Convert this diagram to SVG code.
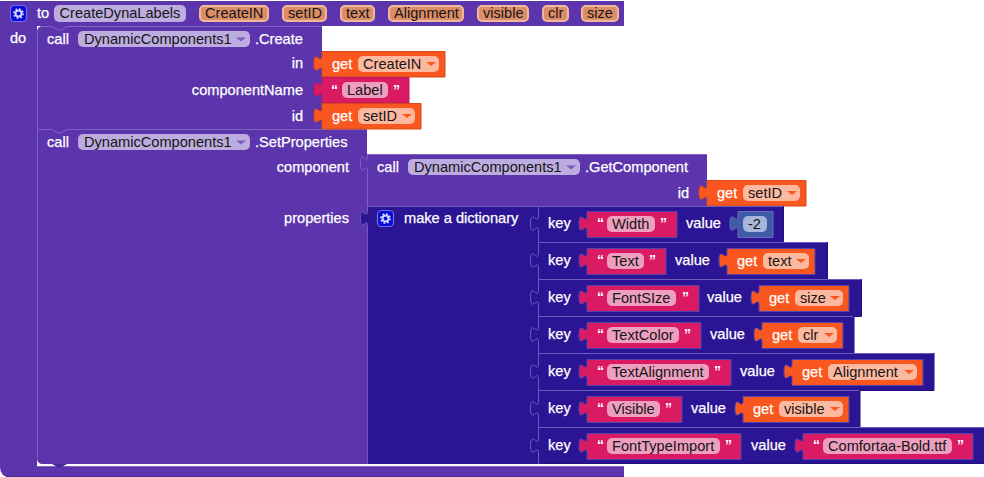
<svg xmlns="http://www.w3.org/2000/svg" xmlns:xlink="http://www.w3.org/1999/xlink" width="984" height="477" viewBox="0 0 984 477">
<style>
text{font-family:"Liberation Sans",Arial,sans-serif;font-size:14.6px}
.t{fill:#fff;stroke:#fff;stroke-width:.25px}.k{fill:#151515}.e{text-anchor:end}
.q{fill:#fff;font-weight:bold;font-size:14px}
.pn{fill:#5c35ad}
.hl{fill:none;stroke:#7e63c2;stroke-width:1}
.hd{fill:none;stroke:#6a5cc0;stroke-width:1}
.dk{fill:#2c1594}
.de{fill:none;stroke:#24107f;stroke-width:1}
.or{fill:#f9571f;stroke:#5344ab;stroke-width:1}
.or1{fill:#f9571f;stroke:#d8481a;stroke-width:1}
.pk{fill:#db1a64;stroke:#5344ab;stroke-width:1}
.pk1{fill:#db1a64;stroke:#b81a60;stroke-width:1}
.bl{fill:#3e5ba8;stroke:#6a6cb8;stroke-width:1}
.fp{fill:#bdacdf}.fo{fill:#fdb9a0}.fk{fill:#ee9fbf}.fb{fill:#a8b5dc}
.par{fill:#dc8d68;stroke:#efb89d;stroke-width:2}
.tp{fill:#7a5dbd}.to{fill:#f9571f}
.ic{fill:#0a0ad6;stroke:#6f6fe6;stroke-width:1.2}
</style>
<defs>
<g id="gear"><circle r="3" fill="none" stroke="#d4d4ff" stroke-width="2"/><circle r="4.6" fill="none" stroke="#d4d4ff" stroke-width="1.6" stroke-dasharray="1.8 1.8"/></g>
</defs>

<g id="procedure">
<path class="pn" d="M0,1H624V26H37V466H624V477H10Q0,477 0,467Z"/>
<path d="M37,466.500H624" stroke="#7e63c2"/>
<path d="M6,476.500H624" stroke="#4a2a9a"/>
<rect class="ic" x="10.500" y="5.500" width="16" height="16" rx="4"/>
<use xlink:href="#gear" x="18.500" y="13.500"/>
<text class="t" x="37" y="18">to</text>
<rect class="fp" x="54" y="5" width="132" height="17" rx="5"/>
<text class="k" x="59.500" y="18">CreateDynaLabels</text>
<rect class="par" x="200" y="6" width="68" height="15" rx="4"/><text class="k" x="205" y="18">CreateIN</text>
<rect class="par" x="283" y="6" width="43" height="15" rx="4"/><text class="k" x="288" y="18">setID</text>
<rect class="par" x="341" y="6" width="33" height="15" rx="4"/><text class="k" x="346" y="18">text</text>
<rect class="par" x="389" y="6" width="74" height="15" rx="4"/><text class="k" x="394" y="18">Alignment</text>
<rect class="par" x="478" y="6" width="50" height="15" rx="4"/><text class="k" x="483" y="18">visible</text>
<rect class="par" x="543" y="6" width="25" height="15" rx="4"/><text class="k" x="548" y="18">clr</text>
<rect class="par" x="582" y="6" width="36" height="15" rx="4"/><text class="k" x="587" y="18">size</text>
<text class="t" x="10" y="43">do</text>
</g>

<g id="call-create">
<path class="pn" d="M37,32Q37,26 43,26H322V129H37Z"/>
<path class="hl" d="M37.500,129V32Q37.500,26.500 43,26.500H52l6,3.500h3l6,-3.500H322"/>
<text class="t" x="47" y="44">call</text>
<rect class="fp" x="78" y="31" width="172" height="16" rx="5"/>
<text class="k" x="84" y="44">DynamicComponents1</text>
<path class="tp" d="M236,37.500h10l-5,4z"/>
<text class="t" x="255" y="44">.Create</text>
<text class="t e" x="303" y="68">in</text>
<text class="t e" x="303" y="95">componentName</text>
<text class="t e" x="303" y="121">id</text>
</g>

<g id="call-setproperties">
<path class="pn" d="M37,129H367V464H43Q37,464 37,458Z"/>
<path class="hl" d="M37.500,458V129.500H52l6,3.500h3l6,-3.500H367"/>
<path d="M52,464l6,3.500h3l6,-3.500z" fill="#4a2a9a"/>
<text class="t" x="47" y="147">call</text>
<rect class="fp" x="78" y="134" width="172" height="16" rx="5"/>
<text class="k" x="84" y="147">DynamicComponents1</text>
<path class="tp" d="M236,140.500h10l-5,4z"/>
<text class="t" x="255" y="147">.SetProperties</text>
<text class="t e" x="349" y="172">component</text>
<text class="t e" x="349" y="223">properties</text>
</g>

<g id="get-createin">
<path class="or1" d="M322,51.500H445V77H322V71c0,-10 -8,8 -8,-7.500s8,2.500 8,-7.500z"/>
<text class="t" x="332" y="69">get</text>
<rect class="fo" x="358" y="56" width="81" height="16" rx="5"/>
<text class="k" x="363" y="69">CreateIN</text>
<path class="to" d="M426,62h10l-5,4z"/>
</g>
<g id="text-label">
<path class="pk1" d="M322,77.500H409V103H322V97c0,-10 -8,8 -8,-7.500s8,2.500 8,-7.500z"/>
<text class="q" x="331" y="95">“</text>
<rect class="fk" x="342" y="82" width="46" height="16" rx="5"/>
<text class="k" x="347" y="95">Label</text>
<text class="q" x="393" y="95">”</text>
</g>
<g id="get-setid">
<path class="or1" d="M322,103.500H421V129H322V123c0,-10 -8,8 -8,-7.500s8,2.500 8,-7.500z"/>
<text class="t" x="332" y="121">get</text>
<rect class="fo" x="358" y="108" width="57" height="16" rx="5"/>
<text class="k" x="363" y="121">setID</text>
<path class="to" d="M402,114h10l-5,4z"/>
</g>

<g id="call-getcomponent">
<path class="pn" d="M367,154H707V206H367V171c0,-10 -7,8 -7,-7.500s7,2.500 7,-7.500z"/>
<path class="hl" d="M367.500,206V171c0,-10 -7,8 -7,-7.500s7,2.500 7,-7.500V154.500H707"/>
<text class="t" x="377" y="172">call</text>
<rect class="fp" x="408" y="159" width="172" height="16" rx="5"/>
<text class="k" x="414" y="172">DynamicComponents1</text>
<path class="tp" d="M566,165.500h10l-5,4z"/>
<text class="t" x="585" y="172">.GetComponent</text>
<text class="t e" x="689" y="198">id</text>
</g>
<g id="get-setid-2">
<path class="or1" d="M707,180.500H806V206H707V200c0,-10 -8,8 -8,-7.500s8,2.500 8,-7.500z"/>
<text class="t" x="717" y="198">get</text>
<rect class="fo" x="743" y="185" width="57" height="16" rx="5"/>
<text class="k" x="748" y="198">setID</text>
<path class="to" d="M787,191h10l-5,4z"/>
</g>

<g id="make-dictionary">
<path class="dk" d="M367,206H538V464H367V226c0,-10 -7,8 -7,-7.500s7,2.500 7,-7.500z"/>
<path class="hd" d="M367.500,464V226c0,-10 -7,8 -7,-7.500s7,2.500 7,-7.500V206.500H538"/>
<rect class="ic" x="377.500" y="210.500" width="16" height="16" rx="4"/>
<use xlink:href="#gear" x="385.500" y="218.500"/>
<text class="t" x="404" y="223">make a dictionary</text>
</g>

<g id="pair-1">
<path class="dk" d="M538,206H783V242H538V231c0,-10 -8,8 -8,-7.500s8,2.500 8,-7.500z"/>
<path class="de" d="M783.500,206V242.500H538"/>
<path class="hd" d="M538.500,242V231c0,-10 -8,8 -8,-7.500s8,2.500 8,-7.500V206.500H783"/>
<text class="t" x="548" y="228">key</text>
<path class="pk" d="M587,211.500H677V237.500H587V231c0,-10 -8,8 -8,-7.500s8,2.500 8,-7.500z"/>
<text class="q" x="597" y="228">“</text>
<rect class="fk" x="607" y="216" width="48" height="16" rx="5"/>
<text class="k" x="612" y="229">Width</text>
<text class="q" x="660" y="228">”</text>
<text class="t" x="686" y="228">value</text>
<path class="bl" d="M738,211.500H773V237.500H738V231c0,-10 -8,8 -8,-7.500s8,2.500 8,-7.500z"/>
<rect class="fb" x="743" y="216" width="24" height="16" rx="5"/>
<text class="k" x="748" y="229">-2</text>
</g>
<g id="pair-2">
<path class="dk" d="M538,242H827V279H538V268c0,-10 -8,8 -8,-7.500s8,2.500 8,-7.500z"/>
<path class="de" d="M827.500,242V279.500H538"/>
<path class="hd" d="M538.500,279V268c0,-10 -8,8 -8,-7.500s8,2.500 8,-7.500V242.500H827"/>
<text class="t" x="548" y="265">key</text>
<path class="pk" d="M587,248.500H666V274.500H587V268c0,-10 -8,8 -8,-7.500s8,2.500 8,-7.500z"/>
<text class="q" x="597" y="265">“</text>
<rect class="fk" x="607" y="253" width="37" height="16" rx="5"/>
<text class="k" x="612" y="266">Text</text>
<text class="q" x="649" y="265">”</text>
<text class="t" x="675" y="265">value</text>
<path class="or" d="M727,248.500H815V274.500H727V268c0,-10 -8,8 -8,-7.500s8,2.500 8,-7.500z"/>
<text class="t" x="737" y="266">get</text>
<rect class="fo" x="763" y="253" width="46" height="16" rx="5"/>
<text class="k" x="768" y="266">text</text>
<path class="to" d="M796,259h10l-5,4z"/>
</g>
<g id="pair-3">
<path class="dk" d="M538,279H861V316H538V305c0,-10 -8,8 -8,-7.500s8,2.500 8,-7.500z"/>
<path class="de" d="M861.500,279V316.500H538"/>
<path class="hd" d="M538.500,316V305c0,-10 -8,8 -8,-7.500s8,2.500 8,-7.500V279.500H861"/>
<text class="t" x="548" y="302">key</text>
<path class="pk" d="M587,285.500H699V311.500H587V305c0,-10 -8,8 -8,-7.500s8,2.500 8,-7.500z"/>
<text class="q" x="597" y="302">“</text>
<rect class="fk" x="607" y="290" width="69" height="16" rx="5"/>
<text class="k" x="612" y="303">FontSIze</text>
<text class="q" x="682" y="302">”</text>
<text class="t" x="707" y="302">value</text>
<path class="or" d="M759,285.500H849V311.500H759V305c0,-10 -8,8 -8,-7.500s8,2.500 8,-7.500z"/>
<text class="t" x="769" y="303">get</text>
<rect class="fo" x="795" y="290" width="48" height="16" rx="5"/>
<text class="k" x="800" y="303">size</text>
<path class="to" d="M830,296h10l-5,4z"/>
</g>
<g id="pair-4">
<path class="dk" d="M538,316H854V353H538V342c0,-10 -8,8 -8,-7.500s8,2.500 8,-7.500z"/>
<path class="de" d="M854,316V353.500H538"/>
<path class="hd" d="M538.500,353V342c0,-10 -8,8 -8,-7.500s8,2.500 8,-7.500V316.500H853"/>
<text class="t" x="548" y="339">key</text>
<path class="pk" d="M587,322.500H701V348.500H587V342c0,-10 -8,8 -8,-7.500s8,2.500 8,-7.500z"/>
<text class="q" x="597" y="339">“</text>
<rect class="fk" x="607" y="327" width="72" height="16" rx="5"/>
<text class="k" x="612" y="340">TextColor</text>
<text class="q" x="684" y="339">”</text>
<text class="t" x="710" y="339">value</text>
<path class="or" d="M762,322.500H843V348.500H762V342c0,-10 -8,8 -8,-7.500s8,2.500 8,-7.500z"/>
<text class="t" x="772" y="340">get</text>
<rect class="fo" x="798" y="327" width="39" height="16" rx="5"/>
<text class="k" x="803" y="340">clr</text>
<path class="to" d="M824,333h10l-5,4z"/>
</g>
<g id="pair-5">
<path class="dk" d="M538,353H934V390H538V379c0,-10 -8,8 -8,-7.500s8,2.500 8,-7.500z"/>
<path class="de" d="M934,353V390.500H538"/>
<path class="hd" d="M538.500,390V379c0,-10 -8,8 -8,-7.500s8,2.500 8,-7.500V353.500H933"/>
<text class="t" x="548" y="376">key</text>
<path class="pk" d="M587,359.500H731V385.500H587V379c0,-10 -8,8 -8,-7.500s8,2.500 8,-7.500z"/>
<text class="q" x="597" y="376">“</text>
<rect class="fk" x="607" y="364" width="102" height="16" rx="5"/>
<text class="k" x="612" y="377">TextAlignment</text>
<text class="q" x="714" y="376">”</text>
<text class="t" x="740" y="376">value</text>
<path class="or" d="M792,359.500H923V385.500H792V379c0,-10 -8,8 -8,-7.500s8,2.500 8,-7.500z"/>
<text class="t" x="802" y="377">get</text>
<rect class="fo" x="828" y="364" width="89" height="16" rx="5"/>
<text class="k" x="833" y="377">Alignment</text>
<path class="to" d="M904,370h10l-5,4z"/>
</g>
<g id="pair-6">
<path class="dk" d="M538,390H860V427H538V416c0,-10 -8,8 -8,-7.500s8,2.500 8,-7.500z"/>
<path class="de" d="M860,390V427.500H538"/>
<path class="hd" d="M538.500,427V416c0,-10 -8,8 -8,-7.500s8,2.500 8,-7.500V390.500H859"/>
<text class="t" x="548" y="413">key</text>
<path class="pk" d="M587,396.500H682V422.500H587V416c0,-10 -8,8 -8,-7.500s8,2.500 8,-7.500z"/>
<text class="q" x="597" y="413">“</text>
<rect class="fk" x="607" y="401" width="53" height="16" rx="5"/>
<text class="k" x="612" y="414">Visible</text>
<text class="q" x="665" y="413">”</text>
<text class="t" x="691" y="413">value</text>
<path class="or" d="M743,396.500H849V422.500H743V416c0,-10 -8,8 -8,-7.500s8,2.500 8,-7.500z"/>
<text class="t" x="753" y="414">get</text>
<rect class="fo" x="779" y="401" width="64" height="16" rx="5"/>
<text class="k" x="784" y="414">visible</text>
<path class="to" d="M830,407h10l-5,4z"/>
</g>
<g id="pair-7">
<path class="dk" d="M538,427H984V464H538V453c0,-10 -8,8 -8,-7.500s8,2.500 8,-7.500z"/>
<path class="de" d="M984,463.500H538"/>
<path class="hd" d="M538.500,464V453c0,-10 -8,8 -8,-7.500s8,2.500 8,-7.500V427.500H984"/>
<text class="t" x="548" y="450">key</text>
<path class="pk" d="M587,433.500H741V459.500H587V453c0,-10 -8,8 -8,-7.500s8,2.500 8,-7.500z"/>
<text class="q" x="597" y="450">“</text>
<rect class="fk" x="607" y="438" width="113" height="16" rx="5"/>
<text class="k" x="612" y="451">FontTypeImport</text>
<text class="q" x="725" y="450">”</text>
<text class="t" x="751" y="450">value</text>
<path class="pk" d="M803,433.500H973V459.500H803V453c0,-10 -8,8 -8,-7.500s8,2.500 8,-7.500z"/>
<text class="q" x="813" y="450">“</text>
<rect class="fk" x="823" y="438" width="129" height="16" rx="5"/>
<text class="k" x="828" y="451">Comfortaa-Bold.ttf</text>
<text class="q" x="957" y="450">”</text>
</g>

<g id="connectors"></g>
</svg>
